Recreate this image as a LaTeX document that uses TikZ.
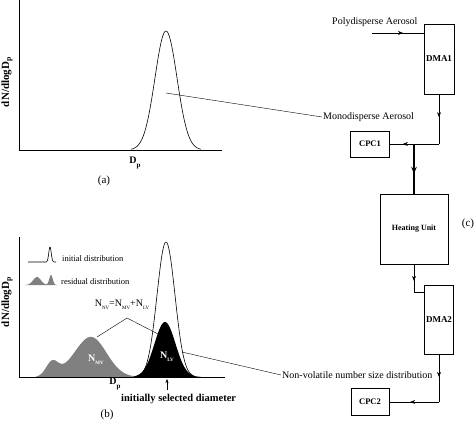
\documentclass[tikz,border=0pt]{standalone}
\usepackage{fontspec}
\setmainfont{Liberation Serif}
\usetikzlibrary{arrows.meta,decorations.markings}

\tikzset{
    box/.style={draw, rectangle, inner sep=0pt, line width=0.6pt, font=\bfseries\fontsize{8.5}{10}\selectfont},
    flow/.style={line width=0.6pt},
    midarrow/.style={postaction={decorate}, decoration={markings, mark=at position #1 with {\arrow{Stealth[length=5pt,width=4pt]}}}},
    midarrow/.default=0.5,
    bigmidarrow/.style={postaction={decorate}, decoration={markings, mark=at position #1 with {\arrow{Stealth[length=7pt,width=5.5pt]}}}},
    bigmidarrow/.default=0.5,
    lbl/.style={font=\fontsize{10}{12}\selectfont, inner sep=1pt},
    axis/.style={line width=1pt},
    curve/.style={line width=0.6pt}
}

\begin{document}
\begin{tikzpicture}[x=1pt, y=-1pt]
                \useasboundingbox (0,0) rectangle (474,421);

                % (a) monodisperse peak
                \draw[curve] plot[domain=131:201, samples=80, smooth] (\x, {150-119*exp(-1*(\x-166)*(\x-166)/242)});
                \draw[axis] (19,0) -- (19,150) -- (222,150);
                \node at (7,82) [rotate=90, font=\bfseries\fontsize{11}{12}\selectfont] (ylaba) {dN/dlogD\textsubscript{p}};
                \node at (135,163) [font=\bfseries\fontsize{10}{12}\selectfont] (dpa) {D\raisebox{-4pt}{\scriptsize p}};
                \node at (104,181) [font=\fontsize{11}{12}\selectfont] (capa) {(a)};
                \coordinate (abell) at (166,93);
                \node at (322,117) [lbl, anchor=west] (mono) {Monodisperse Aerosol};
                \draw (abell) -- (mono.west);

                % (b) residual distributions
                \fill[black!50] (36,377) -- plot[domain=36:142, samples=100, smooth] (\x, {377-40*exp(-1*(\x-91)*(\x-91)/480)-14*exp(-1*(\x-52)*(\x-52)/72)-3*exp(-1*(\x-66)*(\x-66)/200)}) -- (142,377) -- cycle;
                \fill[black] (134,377) -- plot[domain=134:201, samples=80, smooth] (\x, {377-55*exp(-1*(\x-165)*(\x-165)/220)}) -- (201,377) -- cycle;
                \draw[curve] plot[domain=138:194, samples=80, smooth] (\x, {377-135*exp(-1*(\x-166)*(\x-166)/162)});
                \draw[axis] (19,237) -- (19,377) -- (225,377);
                \node at (7,302) [rotate=90, font=\bfseries\fontsize{11}{12}\selectfont] (ylabb) {dN/dlogD\textsubscript{p}};

                \draw[curve] (28,262) -- (46,262) -- plot[domain=46:54, samples=30, smooth] (\x, {262-15*exp(-1*(\x-50)*(\x-50)/3)}) -- (56,262);
                \node at (62,259) [anchor=west, inner sep=0pt, font=\fontsize{8.5}{10}\selectfont] (leginit) {initial distribution};
                \fill[black!50] (25,285) -- plot[domain=25:57, samples=60, smooth] (\x, {285-8*exp(-1*(\x-37)*(\x-37)/30)-10*exp(-1*(\x-51)*(\x-51)/6)}) -- (57,285) -- cycle;
                \node at (61,282) [anchor=west, inner sep=0pt, font=\fontsize{8.5}{10}\selectfont] (legres) {residual distribution};

                \node at (122,305) [lbl] (nsum) {N\raisebox{-3pt}{\tiny NV}=N\raisebox{-3pt}{\tiny MV}+N\raisebox{-3pt}{\tiny LV}};
                \coordinate (nsumfoot) at (127,318);
                \coordinate (mvtop) at (97,337);
                \coordinate (lvtop) at (158,334);
                \draw (nsumfoot) -- (mvtop);
                \draw (nsumfoot) -- (lvtop);
                \node at (96,360) [text=white, font=\bfseries\fontsize{10}{12}\selectfont] (nmv) {N\raisebox{-3pt}{\tiny MV}};
                \node at (167,357) [text=white, font=\bfseries\fontsize{10}{12}\selectfont] (nlv) {N\raisebox{-3pt}{\tiny LV}};
                \coordinate (lvside) at (182,352);
                \node at (281,375) [lbl, anchor=west] (nonvol) {Non-volatile number size distribution};
                \draw (lvside) -- (nonvol.west);

                \coordinate (selfoot) at (167,390);
                \coordinate (selhead) at (167,379);
                \draw[-{Stealth[length=4pt,width=3pt]}] (selfoot) -- (selhead);
                \node at (115,384) [font=\bfseries\fontsize{10}{12}\selectfont] (dpb) {D\raisebox{-4pt}{\scriptsize p}};
                \node at (121,399) [anchor=west, inner sep=0pt, font=\bfseries\fontsize{10.5}{12}\selectfont] (seldiam) {initially selected diameter};
                \node at (107,415) [font=\fontsize{11}{12}\selectfont] (capb) {(b)};

                % (c) setup
                \node at (439,59) [box, minimum width=30pt, minimum height=70pt, font=\bfseries\fontsize{9}{10}\selectfont] (dma1) {DMA1};
                \node at (370,144) [box, minimum width=39pt, minimum height=26pt] (cpc1) {CPC1};
                \node at (414,229) [box, minimum width=68pt, minimum height=70pt, font=\bfseries\fontsize{8}{10}\selectfont] (heat) {Heating Unit};
                \node at (439,320) [box, minimum width=29pt, minimum height=69pt, font=\bfseries\fontsize{9}{10}\selectfont] (dma2) {DMA2};
                \node at (370,402) [box, minimum width=38pt, minimum height=27pt] (cpc2) {CPC2};
                \node at (468,224) [font=\fontsize{11}{12}\selectfont] (capc) {(c)};

                \coordinate (polyin) at (372,33);
                \node at (331,22) [lbl, anchor=west] (poly) {Polydisperse Aerosol};
                \draw[flow, midarrow=0.6] (polyin) -- (polyin -| dma1.west);

                \coordinate (jn) at (414,144);
                \draw[flow, midarrow=0.46] (dma1.south) -- (dma1.south |- jn);
                \draw[flow] (dma1.south |- jn) -- (jn);
                \draw[flow, midarrow=0.46] (jn) -- (cpc1.east);
                \draw[line width=1.3pt, bigmidarrow=0.6] (jn) -- (heat.north);

                \coordinate (dma2in) at (424,292);
                \draw[flow, midarrow=0.6] (heat.south) -- (heat.south |- dma2in);
                \draw[flow] (heat.south |- dma2in) -- (dma2in);
                \draw[flow, midarrow=0.47] (dma2.south) -- (dma2.south |- cpc2.east);
                \draw[flow, midarrow=0.58] (dma2.south |- cpc2.east) -- (cpc2.east);
            \end{tikzpicture}
\end{document}
